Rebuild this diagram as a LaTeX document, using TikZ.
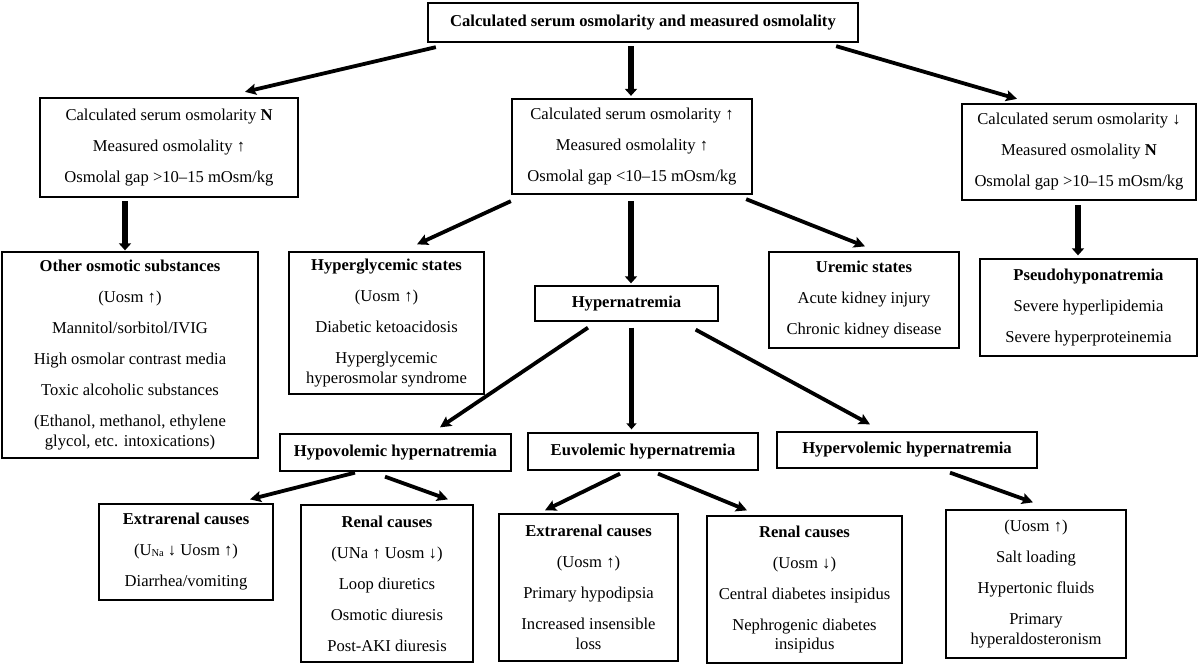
\documentclass[tikz,border=0pt]{standalone}
\usepackage{fontspec}
\setmainfont{Liberation Serif}
\usetikzlibrary{arrows.meta}
\newcommand{\una}{U\raisebox{-0.5pt}{\fontsize{10.5}{10.5}\selectfont Na}}
\begin{document}
\begin{tikzpicture}[x=1pt,y=-1pt,
  bx/.style={draw, line width=1.3pt, align=center, inner sep=0pt, font=\fontsize{16.6}{19.5}\selectfont},
  tbx/.style={bx, line width=2.3pt},
  arr/.style={line width=3.8pt, -{Stealth[length=11pt,width=11pt,inset=2pt]}},
  varr/.style={line width=6pt, -{Triangle[length=7pt,width=12pt]}},
  marr/.style={line width=4.6pt, -{Triangle[length=6pt,width=10pt]}}]
\useasboundingbox (0,0) rectangle (1200,665);
\fill[white] (0,0) rectangle (1200,665);

\node[tbx, minimum width=430pt, minimum height=39pt] (top) at (643,22.5)
  {\textbf{Calculated serum osmolarity and measured osmolality}};

\node[tbx, minimum width=258pt, minimum height=99pt] (L1) at (169,147.5)
  {Calculated serum osmolarity \textbf{N}\\[11.5pt] Measured osmolality ↑\\[11.5pt] Osmolal gap >10–15 mOsm/kg};
\node[tbx, minimum width=240pt, minimum height=95pt] (M1) at (632,146.5)
  {Calculated serum osmolarity ↑\\[11.5pt] Measured osmolality ↑\\[11.5pt] Osmolal gap <10–15 mOsm/kg};
\node[tbx, minimum width=234pt, minimum height=96pt] (R1) at (1079,152)
  {Calculated serum osmolarity ↓\\[11.5pt] Measured osmolality \textbf{N}\\[11.5pt] Osmolal gap >10–15 mOsm/kg};

\node[bx, minimum width=256pt, minimum height=206pt] (O) at (130,355)
  {\textbf{Other osmotic substances}\\[11.5pt] (Uosm ↑)\\[11.5pt] Mannitol/sorbitol/IVIG\\[11.5pt] High osmolar contrast media\\[11.5pt] Toxic alcoholic substances\\[11.5pt] (Ethanol, methanol, ethylene\\ glycol, etc. intoxications)};
\node[bx, minimum width=195pt, minimum height=142pt] (Hg) at (386.5,323)
  {\textbf{Hyperglycemic states}\\[11.5pt] (Uosm ↑)\\[11.5pt] Diabetic ketoacidosis\\[11.5pt] Hyperglycemic\\ hyperosmolar syndrome};
\node[bx, minimum width=183pt, minimum height=35pt] (Hn) at (626.5,303.5)
  {\textbf{Hypernatremia}};
\node[bx, minimum width=190pt, minimum height=96pt] (U) at (864,300)
  {\textbf{Uremic states}\\[11.5pt] Acute kidney injury\\[11.5pt] Chronic kidney disease};
\node[bx, minimum width=217pt, minimum height=97pt] (P) at (1088.5,307.5)
  {\textbf{Pseudohyponatremia}\\[11.5pt] Severe hyperlipidemia\\[11.5pt] Severe hyperproteinemia};

\node[bx, minimum width=231pt, minimum height=37pt] (Hypo) at (395.5,452.5)
  {\textbf{Hypovolemic hypernatremia}};
\node[bx, minimum width=230pt, minimum height=37pt] (Eu) at (643,451.5)
  {\textbf{Euvolemic hypernatremia}};
\node[bx, minimum width=260pt, minimum height=36pt] (Hyper) at (907,450)
  {\textbf{Hypervolemic hypernatremia}};

\node[bx, minimum width=174pt, minimum height=96pt] (E1) at (186,552)
  {\textbf{Extrarenal causes}\\[11.5pt] (\una\ ↓ Uosm ↑)\\[11.5pt] Diarrhea/vomiting};
\node[bx, minimum width=172pt, minimum height=157pt] (R2) at (387,583.5)
  {\textbf{Renal causes}\\[11.5pt] (UNa ↑ Uosm ↓)\\[11.5pt] Loop diuretics\\[11.5pt] Osmotic diuresis\\[11.5pt] Post-AKI diuresis};
\node[bx, minimum width=179pt, minimum height=147pt] (E3) at (588.5,587.5)
  {\textbf{Extrarenal causes}\\[11.5pt] (Uosm ↑)\\[11.5pt] Primary hypodipsia\\[11.5pt] Increased insensible\\ loss};
\node[bx, minimum width=195pt, minimum height=147pt] (R4) at (804.5,589.5)
  {\textbf{Renal causes}\\[11.5pt] (Uosm ↓)\\[11.5pt] Central diabetes insipidus\\[11.5pt] Nephrogenic diabetes\\ insipidus};
\node[bx, minimum width=180pt, minimum height=148pt] (Hv) at (1036,584)
  {(Uosm ↑)\\[11.5pt] Salt loading\\[11.5pt] Hypertonic fluids\\[11.5pt] Primary\\ hyperaldosteronism};

% arrows
\draw[arr] ([xshift=9pt,yshift=-4pt]top.south west) -- ([xshift=76pt,yshift=5pt]L1.north);
\draw[varr] ([xshift=-12pt,yshift=-3pt]top.south) -- ([xshift=-1pt,yshift=2pt]M1.north);
\draw[arr] ([xshift=-23pt,yshift=-3pt]top.south east) -- ([xshift=-62pt,yshift=4pt]R1.north);

\draw[varr] ([xshift=-44pt,yshift=-3pt]L1.south) -- ([xshift=-5pt,yshift=1pt]O.north);
\draw[arr] ([yshift=-6pt]M1.south west) -- ([xshift=30.5pt,yshift=7pt]Hg.north);
\draw[varr] ([xshift=-1pt,yshift=-6pt]M1.south) -- ([xshift=4.5pt,yshift=2pt]Hn.north);
\draw[arr] ([xshift=-7pt,yshift=-4pt]M1.south east) -- ([xshift=1pt,yshift=5pt]U.north);
\draw[varr] ([xshift=-1pt,yshift=-4pt]R1.south) -- ([xshift=-10.5pt,yshift=3pt]P.north);

\draw[arr] ([xshift=-38.5pt,yshift=-6pt]Hn.south) -- ([xshift=44.5pt,yshift=6pt]Hypo.north);
\draw[marr] ([xshift=5pt,yshift=-6pt]Hn.south) -- ([xshift=-11.5pt,yshift=3pt]Eu.north);
\draw[arr] ([xshift=-23pt,yshift=-8pt]Hn.south east) -- ([xshift=-37pt,yshift=7pt]Hyper.north);

\draw[arr] ([xshift=-40.5pt,yshift=-1pt]Hypo.south) -- ([xshift=64pt,yshift=4pt]E1.north);
\draw[arr] ([xshift=-10.5pt,yshift=-5pt]Hypo.south) -- ([xshift=61pt,yshift=5pt]R2.north);
\draw[arr] ([xshift=-23pt,yshift=-3pt]Eu.south) -- ([xshift=-43.5pt,yshift=3pt]E3.north);
\draw[arr] ([xshift=15pt,yshift=-3pt]Eu.south) -- ([xshift=-57.5pt,yshift=5pt]R4.north);
\draw[arr] ([xshift=43pt,yshift=-4pt]Hyper.south) -- ([xshift=-3pt,yshift=7pt]Hv.north);
\end{tikzpicture}
\end{document}
